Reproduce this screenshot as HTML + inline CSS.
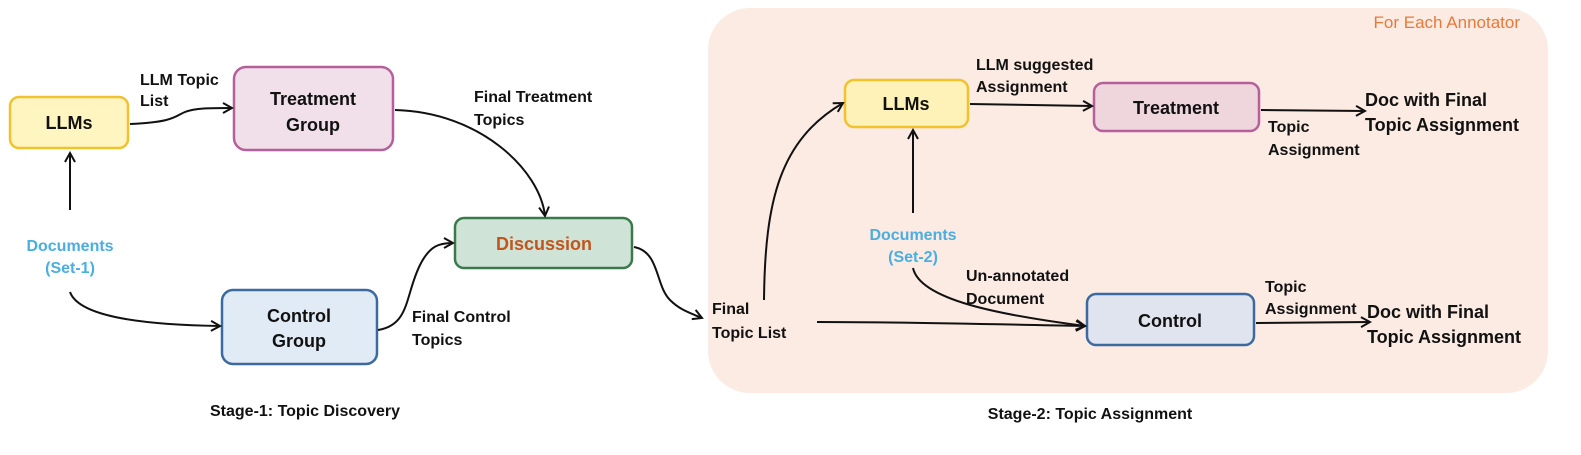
<!DOCTYPE html>
<html><head><meta charset="utf-8"><style>
body{margin:0;background:#fff;}
svg text{font-family:"Liberation Sans",sans-serif;font-weight:bold;font-size:16px;fill:#111;}
svg text.n{font-size:18px;}
</style></head><body>
<svg width="1581" height="450" viewBox="0 0 1581 450" xmlns="http://www.w3.org/2000/svg">
<defs><marker id="a" markerWidth="12" markerHeight="12" refX="10" refY="6" orient="auto" markerUnits="userSpaceOnUse"><path d="M1,1 L10,6 L1,11" fill="none" stroke="#111" stroke-width="2"/></marker></defs>
<rect x="708" y="8" width="840" height="385" rx="42" fill="#fbebe3"/>
<text x="1520" y="28" text-anchor="end" style="fill:#e8793a;font-weight:normal;font-size:17px">For Each Annotator</text>
<g stroke-width="2.5">
<rect x="10" y="97" width="118" height="51" rx="9" fill="#fff5c0" stroke="#f2c12e"/>
<rect x="234" y="67" width="159" height="83" rx="12" fill="#f1e0ea" stroke="#b5609a"/>
<rect x="455" y="218" width="177" height="50" rx="9" fill="#cfe3d6" stroke="#3a7a4a"/>
<rect x="222" y="290" width="155" height="74" rx="11" fill="#e0ebf6" stroke="#3c6aa0"/>
<rect x="845" y="80" width="123" height="47" rx="9" fill="#fff2b8" stroke="#f2c12e"/>
<rect x="1094" y="83" width="165" height="48" rx="9" fill="#efd6dc" stroke="#b5609a"/>
<rect x="1087" y="294" width="167" height="51" rx="9" fill="#e0e4ee" stroke="#3c6aa0"/>
</g>
<g fill="none" stroke="#111" stroke-width="2" marker-end="url(#a)">
<path d="M130,124 C175,122 175,116 185,112 C195,108 210,108 232,108"/>
<path d="M395,110 C480,112 540,170 545,216"/>
<path d="M378,330 C410,325 405,295 420,265 C430,245 440,243 453,243"/>
<path d="M634,247 C660,252 655,285 670,300 C680,310 690,313 702,318"/>
<path d="M70,210 L70,153"/>
<path d="M70,292 C80,320 160,325 220,326"/>
<path d="M764,300 C765,200 780,140 843,103"/>
<path d="M970,104 L1092,106"/>
<path d="M913,213 L913,130"/>
<path d="M817,322 C900,322 980,324 1085,326"/>
<path d="M913,268 C920,300 1000,315 1085,326"/>
<path d="M1261,110 L1365,111"/>
<path d="M1256,323 L1370,322"/>
</g>
<g text-anchor="middle">
<text class="n" x="69" y="129">LLMs</text>
<text class="n" x="313" y="105">Treatment</text>
<text class="n" x="313" y="131">Group</text>
<text class="n" x="544" y="250" style="fill:#c0561d">Discussion</text>
<text class="n" x="299" y="322">Control</text>
<text class="n" x="299" y="347">Group</text>
<text class="n" x="906" y="110">LLMs</text>
<text class="n" x="1176" y="114">Treatment</text>
<text class="n" x="1170" y="327">Control</text>
<text x="70" y="251" style="fill:#4aaee0">Documents</text>
<text x="70" y="273" style="fill:#4aaee0">(Set-1)</text>
<text x="913" y="240" style="fill:#4aaee0">Documents</text>
<text x="913" y="262" style="fill:#4aaee0">(Set-2)</text>
<text x="305" y="416">Stage-1: Topic Discovery</text>
<text x="1090" y="419">Stage-2: Topic Assignment</text>
</g>
<text x="140" y="85">LLM Topic</text>
<text x="140" y="106">List</text>
<text x="474" y="102">Final Treatment</text>
<text x="474" y="125">Topics</text>
<text x="412" y="322">Final Control</text>
<text x="412" y="345">Topics</text>
<text x="712" y="314">Final</text>
<text x="712" y="338">Topic List</text>
<text x="976" y="70">LLM suggested</text>
<text x="976" y="92">Assignment</text>
<text x="1268" y="132">Topic</text>
<text x="1268" y="155">Assignment</text>
<text x="966" y="281">Un-annotated</text>
<text x="966" y="304">Document</text>
<text x="1265" y="292">Topic</text>
<text x="1265" y="314">Assignment</text>
<text x="1365" y="106" style="font-size:18px">Doc with Final</text>
<text x="1365" y="131" style="font-size:18px">Topic Assignment</text>
<text x="1367" y="318" style="font-size:18px">Doc with Final</text>
<text x="1367" y="343" style="font-size:18px">Topic Assignment</text>
</svg>
</body></html>
